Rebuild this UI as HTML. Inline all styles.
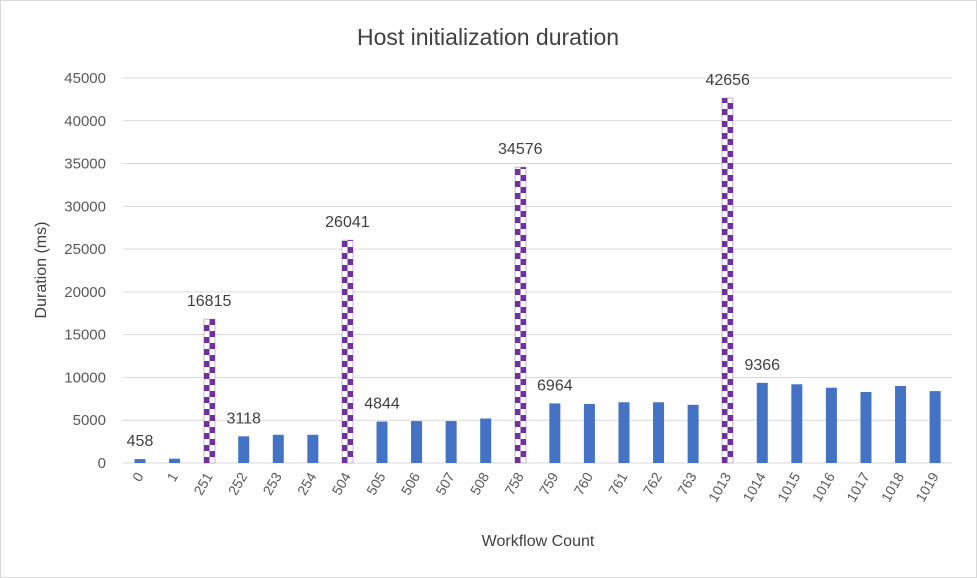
<!DOCTYPE html>
<html><head><style>body{margin:0;background:#fff}svg{display:block}</style></head><body>
<svg width="977" height="578" viewBox="0 0 977 578" xmlns="http://www.w3.org/2000/svg" font-family="Liberation Sans, sans-serif">
<defs>
<pattern id="chk" width="12" height="12" patternUnits="userSpaceOnUse">
<rect width="12" height="12" fill="#fff"/><rect width="6" height="6" fill="#7030a0"/><rect x="6" y="6" width="6" height="6" fill="#7030a0"/>
</pattern>
</defs>
<rect x="0.5" y="0.5" width="976" height="577" fill="#fff" stroke="#d9d9d9"/>
<text x="488" y="45" font-size="23" fill="#404040" text-anchor="middle">Host initialization duration</text>
<g id="grid" stroke="#d9d9d9" stroke-width="1"></g>
<g id="bars"></g>
<g id="lbl" font-size="15" fill="#404040" text-anchor="middle"></g>
<text x="46" y="270" font-size="16" fill="#404040" text-anchor="middle" transform="rotate(-90 46 270)">Duration (ms)</text>
<text x="538" y="546" font-size="16" fill="#404040" text-anchor="middle">Workflow Count</text>
<script>
var ns="http://www.w3.org/2000/svg";
function el(t,a,p,txt){var e=document.createElementNS(ns,t);for(var k in a)e.setAttribute(k,a[k]);if(txt!=null)e.textContent=txt;document.getElementById(p).appendChild(e);}
var y0=463,sc=385/45000,W=34.57,L=140-W/2;
for(var v=0;v<=45000;v+=5000){var y=y0-v*sc;el('line',{x1:L,x2:L+W*24,y1:y,y2:y},'grid');el('text',{x:106,y:y+5,'text-anchor':'end','font-size':15,fill:'#595959'},'lbl',v);}
var cats=[0,1,251,252,253,254,504,505,506,507,508,758,759,760,761,762,763,1013,1014,1015,1016,1017,1018,1019];
var vals=[458,500,16815,3118,3300,3300,26041,4844,4900,4900,5200,34576,6964,6900,7100,7100,6800,42656,9366,9200,8800,8300,9000,8400];
var lab={0:1,2:1,3:1,6:1,7:1,11:1,12:1,17:1,18:1};
cats.forEach(function(c,i){var cx=L+W*(i+0.5),v=vals[i],h=v*sc,chk=(c==251||c==504||c==758||c==1013);
if(chk){var x0=Math.round(cx-5.5);var g=document.createElementNS(ns,'g');
el('rect',{x:x0,y:y0-h,width:11,height:h,fill:'#fff',stroke:'#b9a0d0','stroke-width':0.8},'bars');
for(var yy=y0,r=0;yy>y0-h;yy-=6,r++){var top=Math.max(yy-6,y0-h);el('rect',{x:x0+(r%2?5.5:0),y:top,width:5.5,height:yy-top,fill:'#7030a0'},'bars');}
}else el('rect',{x:cx-5.5,y:y0-h,width:11,height:h,fill:'#4472c4'},'bars');
if(lab[i])el('text',{x:cx,y:y0-h-13,'font-size':16},'lbl',v);
el('text',{x:cx+4,y:476,'text-anchor':'end','font-size':14,fill:'#595959',transform:'rotate(-60 '+(cx+4)+' 476)'},'lbl',c);
});
</script>
</svg>
</body></html>
